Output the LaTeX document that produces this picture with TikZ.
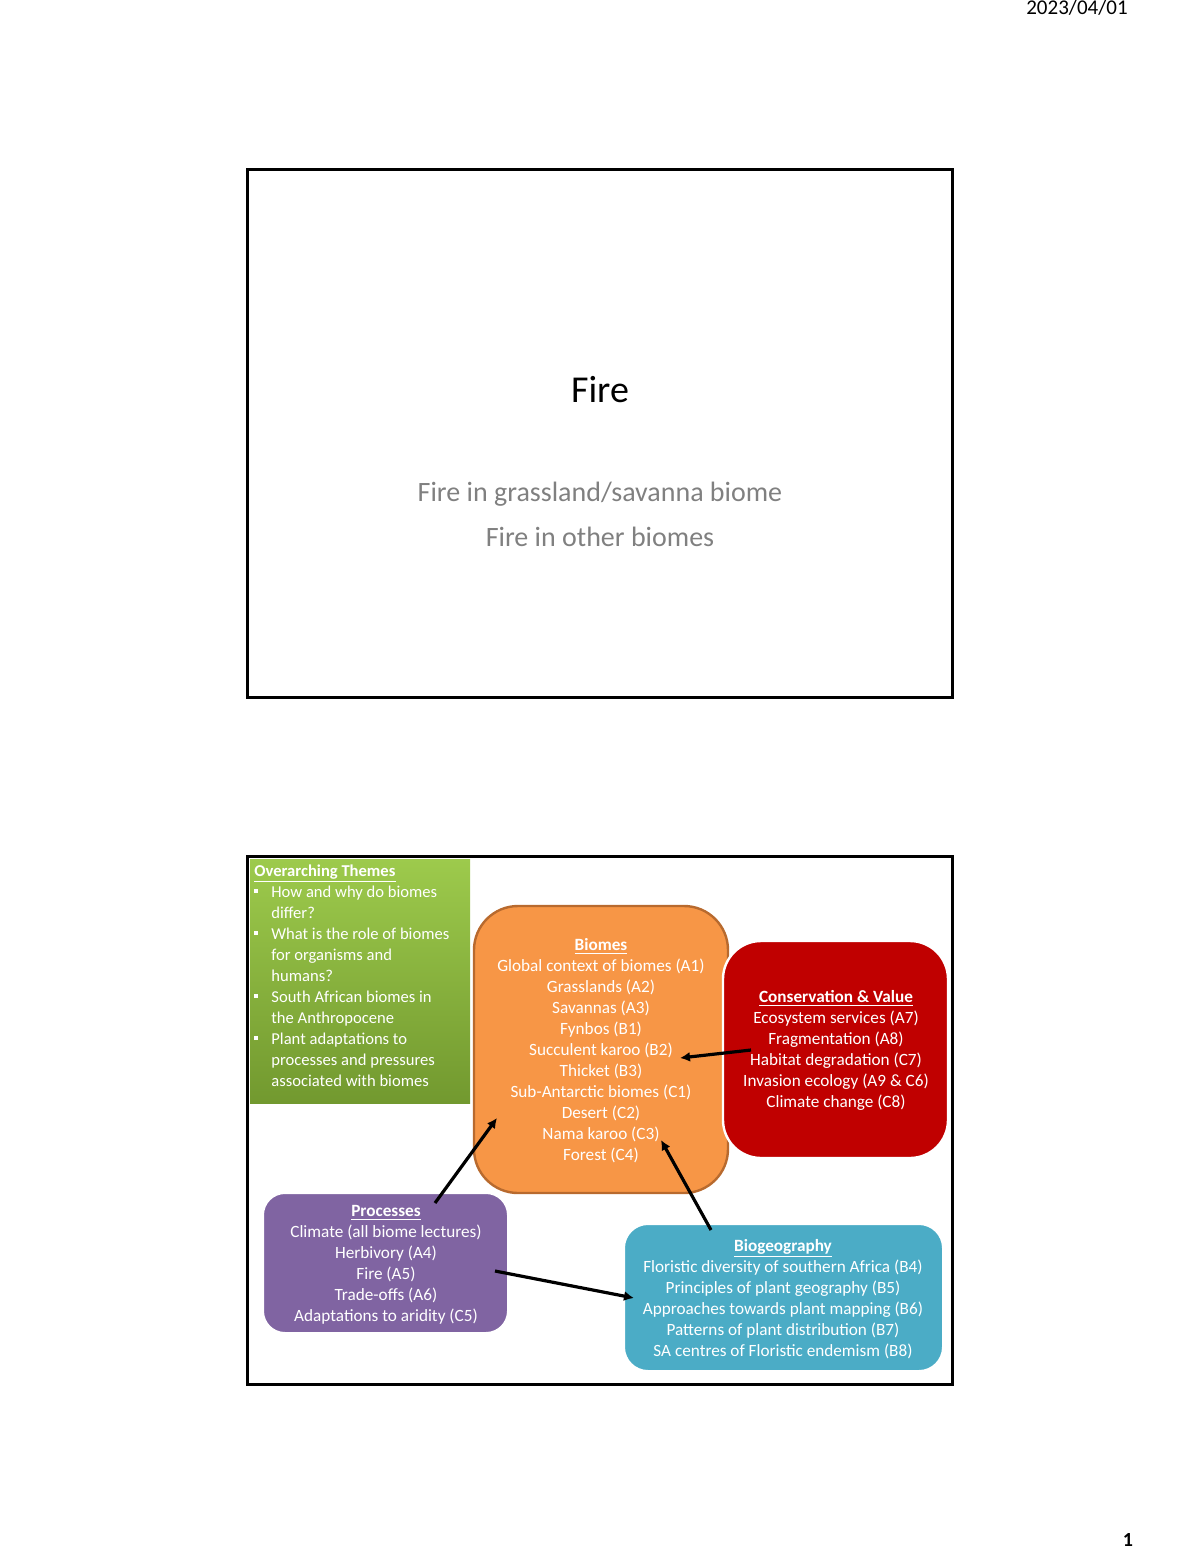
\documentclass[tikz,border=0pt]{standalone}
\usepackage{fontspec}
\setmainfont{Carlito}
\usetikzlibrary{arrows.meta}
\definecolor{orng}{HTML}{F79646}
\definecolor{orngb}{HTML}{B86A2E}
\definecolor{redb}{HTML}{C00000}
\definecolor{purp}{HTML}{8064A2}
\definecolor{teal2}{HTML}{4BACC6}
\definecolor{grtop}{HTML}{9DCA4C}
\definecolor{grbot}{HTML}{72992F}
\definecolor{subg}{HTML}{808080}
\newcommand{\bulsq}{\makebox[8.5pt][l]{\raisebox{2pt}{\rule{1.8pt}{1.8pt}}}}
\newcommand{\ind}{\hspace*{8.5pt}}
\tikzset{
 slide/.style={draw=black,line width=1.5pt},
 blk/.style={text=white,align=center,font=\fontsize{8.6}{10.5}\selectfont},
 conn/.style={line width=1.6pt,-{Latex[length=5pt,width=5pt]}},
}
\begin{document}
\begin{tikzpicture}[x=0.5pt,y=-0.5pt]
\useasboundingbox (0,0) rectangle (1200,1553);
\node[font=\fontsize{10.5}{12}\selectfont] (date) at (1077,8) {2023/04/01};
\node[font=\bfseries\fontsize{10}{12}\selectfont] (pg) at (1128,1540) {1};
% slide 1
\draw[slide] (247,169) rectangle (952,697);
\node[font=\fontsize{19}{23}\selectfont] (title) at (600,390) {Fire};
\node[text=subg,align=center,font=\fontsize{14}{22.5}\selectfont] (sub) at (600,514) {Fire in grassland/savanna biome\\Fire in other biomes};
% slide 2
\draw[slide] (247,856) rectangle (952,1384);
\shade[top color=grtop,bottom color=grbot] (250,859) rectangle (470,1103);
\node[anchor=north west,text=white,align=left,inner sep=0pt,font=\fontsize{8.3}{10.5}\selectfont] (themes) at (254,864)
 {\underline{\bfseries Overarching Themes}\\
 \bulsq How and why do biomes\\
 \ind differ?\\
 \bulsq What is the role of biomes\\
 \ind for organisms and\\
 \ind humans?\\
 \bulsq South African biomes in\\
 \ind the Anthropocene\\
 \bulsq Plant adaptations to\\
 \ind processes and pressures\\
 \ind associated with biomes};
\draw[fill=orng,draw=orngb,line width=1.2pt,rounded corners=22pt] (474,906) rectangle (728,1193);
\draw[fill=redb,draw=white,line width=1.2pt,rounded corners=19pt] (723,941) rectangle (948,1158);
\draw[fill=purp,draw=white,line width=1pt,rounded corners=11pt] (263,1193) rectangle (508,1333);
\draw[fill=teal2,draw=white,line width=1pt,rounded corners=12pt] (624,1224) rectangle (943,1371);
\node[blk,anchor=north] (biomes) at (601,931) {\underline{\bfseries Biomes}\\Global context of biomes (A1)\\Grasslands (A2)\\Savannas (A3)\\Fynbos (B1)\\Succulent karoo (B2)\\Thicket (B3)\\Sub-Antarctic biomes (C1)\\Desert (C2)\\Nama karoo (C3)\\Forest (C4)};
\node[blk,anchor=north] (cons) at (836,983) {\underline{\bfseries Conservation \& Value}\\Ecosystem services (A7)\\Fragmentation (A8)\\Habitat degradation (C7)\\Invasion ecology (A9 \& C6)\\Climate change (C8)};
\node[blk,anchor=north] (proc) at (386,1198) {\underline{\bfseries Processes}\\Climate (all biome lectures)\\Herbivory (A4)\\Fire (A5)\\Trade-offs (A6)\\Adaptations to aridity (C5)};
\node[blk,anchor=north] (biog) at (783,1232) {\underline{\bfseries Biogeography}\\Floristic diversity of southern Africa (B4)\\Principles of plant geography (B5)\\Approaches towards plant mapping (B6)\\Patterns of plant distribution (B7)\\SA centres of Floristic endemism (B8)};
\coordinate (p1) at (435,1203); \coordinate (b1) at (497,1118);
\coordinate (g1) at (711,1230); \coordinate (b2) at (661,1140);
\coordinate (c1) at (751,1050); \coordinate (b3) at (680,1058);
\coordinate (p2) at (495,1271); \coordinate (g2) at (634,1298);
\draw[conn] (p1) -- (b1);
\draw[conn] (g1) -- (b2);
\draw[conn] (c1) -- (b3);
\draw[conn] (p2) -- (g2);
\end{tikzpicture}
\end{document}
